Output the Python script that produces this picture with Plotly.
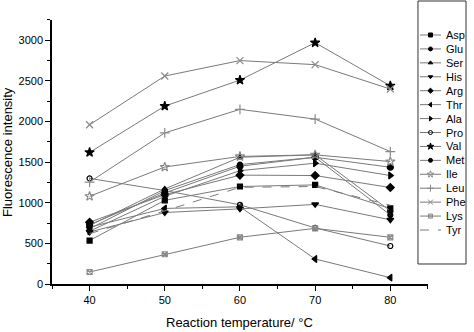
import plotly.graph_objects as go

# ---------------- data ----------------
temperature = [40, 50, 60, 70, 80]
asp = [535, 1030, 1200, 1220, 930]
glu = [680, 1150, 1470, 1560, 850]
ser = [720, 1170, 1560, 1590, 900]
his = [640, 880, 925, 980, 790]
arg = [760, 1100, 1340, 1335, 1187]
thr = [700, 930, 950, 308, 78]
ala = [650, 1080, 1395, 1487, 1335]
pro = [1300, 1150, 975, 690, 468]
val = [1620, 2190, 2510, 2970, 2440]
met = [730, 1120, 1450, 1560, 1437]
ile = [1080, 1440, 1570, 1590, 1507]
leu = [1255, 1860, 2150, 2030, 1630]
phe = [1960, 2560, 2750, 2700, 2400]
lys = [148, 366, 575, 685, 575]
tyr = [620, 900, 1190, 1200, 970]

names = ["Asp", "Glu", "Ser", "His", "Arg", "Thr", "Ala", "Pro",
         "Val", "Met", "Ile", "Leu", "Phe", "Lys", "Tyr"]
values = [asp, glu, ser, his, arg, thr, ala, pro,
          val, met, ile, leu, phe, lys, tyr]

x_ticks = [40, 50, 60, 70, 80]
y_ticks = [0, 500, 1000, 1500, 2000, 2500, 3000]

# ---------------- styles ----------------
LINE = "#7a7a7a"
BLK = "#000000"
GRY = "#8a8a8a"
styles = [
    dict(symbol="square", color=BLK, size=5),
    dict(symbol="circle", color=BLK, size=5),
    dict(symbol="triangle-up", color=BLK, size=5),
    dict(symbol="triangle-down", color=BLK, size=6),
    dict(symbol="diamond", color=BLK, size=6),
    dict(symbol="triangle-left", color=BLK, size=6),
    dict(symbol="triangle-right", color=BLK, size=6),
    dict(symbol="circle-open", color=BLK, size=5),
    dict(symbol="star", color=BLK, size=7),
    dict(symbol="circle", color=BLK, size=6),
    dict(symbol="star-open", color=GRY, size=7),
    dict(symbol="cross-thin-open", color=GRY, size=7),
    dict(symbol="x-thin-open", color=GRY, size=7),
    dict(symbol="square-x-open", color=GRY, size=5),
    None,
]

FONT = "Liberation Sans, Arial, sans-serif"

fig = go.Figure()

for name, vals, st in zip(names, values, styles):
    if st is None:
        fig.add_trace(go.Scatter(
            x=temperature, y=vals, mode="lines", name=name,
            line=dict(color=LINE, width=1, dash="dash"), showlegend=False))
    else:
        fig.add_trace(go.Scatter(
            x=temperature, y=vals, mode="lines+markers", name=name,
            line=dict(color=LINE, width=1),
            marker=dict(symbol=st["symbol"], size=st["size"], color=st["color"],
                        line=dict(color=st["color"], width=1.2)),
            showlegend=False))

# ---------------- manual legend on helper axes ----------------
legend_x = [2, 12.5, 23]
for i, (name, st) in enumerate(zip(names, styles)):
    if st is None:
        fig.add_trace(go.Scatter(
            x=legend_x, y=[i] * 3, mode="lines", xaxis="x2", yaxis="y2",
            line=dict(color=LINE, width=1, dash="dash"), showlegend=False,
            hoverinfo="skip"))
    else:
        fig.add_trace(go.Scatter(
            x=legend_x, y=[i] * 3, mode="lines", xaxis="x2", yaxis="y2",
            line=dict(color=LINE, width=1), showlegend=False, hoverinfo="skip"))
        fig.add_trace(go.Scatter(
            x=[legend_x[1]], y=[i], mode="markers", xaxis="x2", yaxis="y2",
            marker=dict(symbol=st["symbol"], size=max(st["size"] - 2, 4),
                        color=st["color"], line=dict(color=st["color"], width=1)),
            showlegend=False, hoverinfo="skip"))
    fig.add_annotation(x=26, y=i, xref="x2", yref="y2", text=name,
                       showarrow=False, xanchor="left", yanchor="middle",
                       font=dict(family=FONT, size=11, color="#000"))

fig.add_shape(type="rect", xref="x2 domain", yref="y2 domain",
              x0=0, x1=1, y0=0, y1=1, line=dict(color="#333", width=1))

axis_common = dict(
    showgrid=False, zeroline=False, showline=True, linecolor="#000", linewidth=1.5,
    ticks="outside", ticklen=5, tickwidth=1.2, tickcolor="#000",
    tickfont=dict(family=FONT, size=11, color="#000"),
)

fig.update_layout(
    width=474, height=332,
    margin=dict(l=52, r=8, t=1, b=48),
    plot_bgcolor="white", paper_bgcolor="white",
    xaxis=dict(domain=[0, 0.908], range=[35, 85], tickvals=x_ticks,
               minor=dict(dtick=5, tick0=35, ticks="outside", ticklen=3,
                          tickcolor="#000", tickwidth=1),
               **axis_common),
    yaxis=dict(domain=[0, 0.933], range=[0, 3250], tickvals=y_ticks,
               minor=dict(dtick=250, tick0=0, ticks="outside", ticklen=3,
                          tickcolor="#000", tickwidth=1),
               **axis_common),
    xaxis2=dict(domain=[0.884, 1.0], range=[0, 48], visible=False,
                anchor="y2", fixedrange=True),
    yaxis2=dict(domain=[0.0707, 1.0], range=[16.44, -2.44], visible=False,
                anchor="x2", fixedrange=True),
    showlegend=False,
)

fig.add_annotation(x=0, y=0.4665, xref="paper", yref="paper", xshift=-44,
                   text="Fluorescence intensity", textangle=-90, showarrow=False,
                   xanchor="center", yanchor="middle",
                   font=dict(family=FONT, size=13, color="#000"))
fig.add_annotation(x=0.454, y=0, xref="paper", yref="paper", yshift=-38,
                   text="Reaction temperature/ °C", showarrow=False,
                   xanchor="center", yanchor="middle",
                   font=dict(family=FONT, size=13, color="#000"))

fig.write_html("out.html")
